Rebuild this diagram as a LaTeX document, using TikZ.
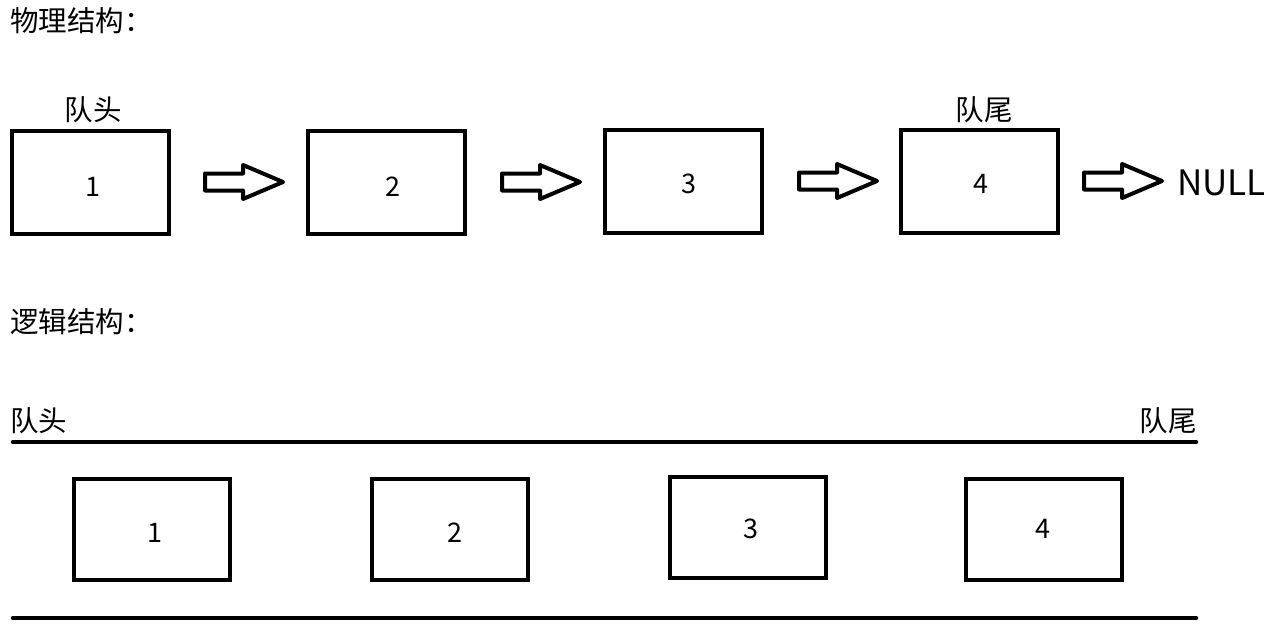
\documentclass[tikz,border=0pt]{standalone}
\usepackage{fontspec}
\setmainfont{Noto Sans CJK SC}
\begin{document}
\begin{tikzpicture}[x=1pt,y=-1pt,
  box/.style={draw=black,line width=4pt,inner sep=0pt,outer sep=0pt,anchor=north west},
  lbl/.style={inner sep=0pt,font=\fontsize{28.5}{33}\selectfont},
  num/.style={inner sep=0pt,font=\fontsize{27}{31}\selectfont},
  bigarrow/.style={draw=black,line width=4pt,line join=round,fill=white},
  bar/.style={line width=4.5pt,line cap=round}]
\useasboundingbox (0,0) rectangle (1275,629);
% titles
\node[lbl,anchor=west] (t1) at (10,21) {物理结构：};
\node[lbl,anchor=west] (t2) at (10,322) {逻辑结构：};
% physical boxes
\node[box,minimum width=157pt,minimum height=103pt] (p1) at (12,131) {};
\node[box,minimum width=157pt,minimum height=103pt] (p2) at (308,131) {};
\node[box,minimum width=157pt,minimum height=103pt] (p3) at (605,130) {};
\node[box,minimum width=157pt,minimum height=103pt] (p4) at (901,130) {};
\node[num] (n1) at (93,187) {1};
\node[num] (n2) at (393,187) {2};
\node[num] (n3) at (689,184) {3};
\node[num] (n4) at (981,184) {4};
\node[lbl] (h1) at (93,110) {队头};
\node[lbl] (e1) at (984,110) {队尾};
\node[inner sep=0pt,anchor=west,font=\fontsize{35}{40}\selectfont] (null) at (1177,183) {NULL};
% block arrows
\foreach \ax/\ay in {205/182,502/182,799/181,1084/181}{
  \draw[bigarrow] (\ax,\ay-8.5) -- (\ax+38,\ay-8.5) -- (\ax+38,\ay-17) -- (\ax+78,\ay) -- (\ax+38,\ay+17) -- (\ax+38,\ay+8.5) -- (\ax,\ay+8.5) -- cycle;
}
% logical structure
\node[lbl,anchor=west] (h2) at (10,421) {队头};
\node[lbl,anchor=east] (e2) at (1197,421) {队尾};
\coordinate (la) at (13,442);
\coordinate (lb) at (1196,442);
\coordinate (lc) at (13,618);
\coordinate (ld) at (1196,618);
\draw[bar] (la) -- (lb);
\draw[bar] (lc) -- (ld);
\node[box,minimum width=156pt,minimum height=101pt] (q1) at (74,479) {};
\node[box,minimum width=156pt,minimum height=101pt] (q2) at (372,479) {};
\node[box,minimum width=156pt,minimum height=101pt] (q3) at (670,477) {};
\node[box,minimum width=156pt,minimum height=101pt] (q4) at (966,479) {};
\node[num] (m1) at (155,533) {1};
\node[num] (m2) at (455,533) {2};
\node[num] (m3) at (751,529) {3};
\node[num] (m4) at (1043,529) {4};
\end{tikzpicture}
\end{document}
